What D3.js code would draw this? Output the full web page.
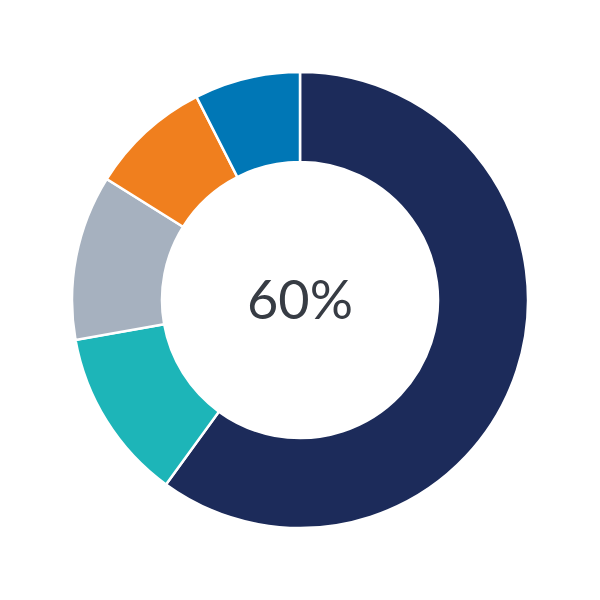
<!DOCTYPE html>
<html><head><meta charset="utf-8">
<script src="https://cdn.jsdelivr.net/npm/d3@7"></script>
<style>html,body{margin:0;padding:0;background:#fff;}</style>
</head><body>
<svg id="chart" width="600" height="600"></svg>
<script>
const categories = ["A", "B", "C", "D", "E"];
const values = [60, 12.2, 11.7, 8.6, 7.5];
const colors = ["#1c2b5a", "#1db5b8", "#a6b1bf", "#f07f1e", "#0077b6"];
const centerLabel = "60%";

const svg = d3.select("#chart");
const g = svg.append("g").attr("transform", "translate(300,300)");
const data = categories.map((c, i) => ({ c, v: values[i], col: colors[i] }));
const pie = d3.pie().value(d => d.v).sort(null);
const arc = d3.arc().innerRadius(138).outerRadius(228);
g.selectAll("path").data(pie(data)).join("path")
  .attr("d", arc)
  .attr("fill", d => d.data.col)
  .attr("stroke", "#fff")
  .attr("stroke-width", 2.5);
g.append("text")
  .attr("text-anchor", "middle")
  .attr("y", 19)
  .attr("font-family", "Lato, sans-serif")
  .attr("font-weight", 400)
  .attr("font-size", 54)
  .attr("fill", "#373c44")
  .text(centerLabel);
</script>
</body></html>
